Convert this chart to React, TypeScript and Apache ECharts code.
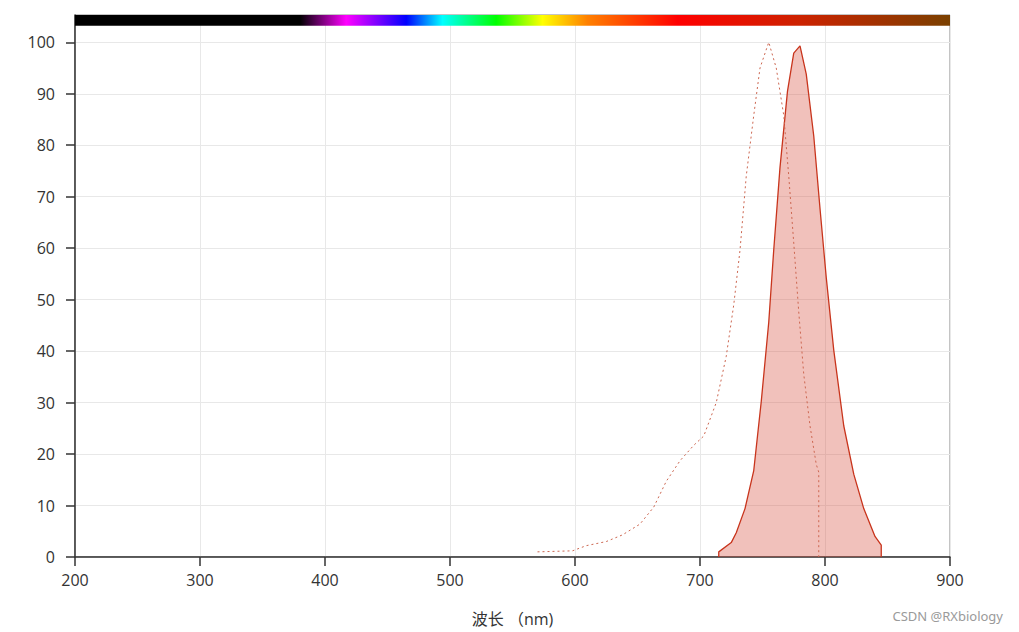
import React, { useEffect, useRef } from "react";
import * as echarts from "echarts";

// Excitation (dotted) spectrum
const exWavelength = [570, 598, 609, 625, 638, 652, 663, 673, 684, 695, 703, 713, 721, 727, 732, 737, 743, 748, 755, 761, 767, 771, 775, 779, 783, 788, 793, 795, 795];
const exValue = [1.0, 1.2, 2.2, 3.0, 4.3, 6.4, 9.7, 14.7, 18.7, 21.7, 23.5, 30, 39, 49, 59.6, 74, 85.8, 95, 100, 95, 85.8, 74, 61, 47.6, 35.5, 25.5, 18, 16.5, 0];

// Emission (filled) spectrum
const emWavelength = [715, 715, 725, 729, 736, 743, 749, 755, 759, 764, 770, 775, 780, 785, 791, 796, 801, 807, 815, 823, 831, 840, 845, 845];
const emValue = [0, 1.0, 2.8, 4.7, 9.4, 16.8, 30.2, 45.6, 59.7, 75.7, 90.5, 97.9, 99.3, 93.8, 81.8, 67.7, 54.3, 40.2, 25.5, 16.1, 9.4, 4.0, 2.3, 0];

const yTicks = [0, 10, 20, 30, 40, 50, 60, 70, 80, 90, 100];
const xMin = 200;
const xMax = 900;
const yMax = 105.3;
const bandBottom = 103.2;

// Visible spectrum colour band: wavelength -> colour
const bandWavelength = [200, 380, 417, 465, 494, 537, 574, 610, 682, 780, 900];
const bandColor = ["#000000", "#000000", "#ff00ff", "#0000ff", "#00ffff", "#00ff00", "#ffff00", "#ff8000", "#ff0000", "#cc2200", "#7a4000"];

const FONT = "'Open Sans', 'Noto Sans', 'Noto Sans CJK SC', sans-serif";

export default function App() {
  const ref = useRef<HTMLDivElement>(null);
  useEffect(() => {
    document.body.style.margin = "0";
    const chart = echarts.init(ref.current!, null, { renderer: "svg" });
    const stops = bandWavelength.map((w, i) => ({ offset: (w - xMin) / (xMax - xMin), color: bandColor[i] }));
    chart.setOption({
      animation: false,
      textStyle: { fontFamily: FONT },
      grid: { left: 75, right: 69, top: 15, bottom: 70, show: true, borderColor: "#888", borderWidth: 1, backgroundColor: "transparent" },
      xAxis: {
        type: "value",
        min: xMin,
        max: xMax,
        interval: 100,
        name: "波长 （nm)",
        nameLocation: "middle",
        nameGap: 54,
        nameTextStyle: { fontSize: 16, color: "#333", fontFamily: FONT },
        axisLine: { lineStyle: { color: "#333", width: 1.5 } },
        axisTick: { show: true, length: 9, lineStyle: { color: "#333", width: 1.5 } },
        axisLabel: { fontSize: 16, color: "#333", margin: 15, fontFamily: FONT },
        splitLine: { show: true, lineStyle: { color: "#e8e8e8" } },
      },
      yAxis: {
        type: "value",
        min: 0,
        max: yMax,
        interval: 10,
        axisLine: { show: true, lineStyle: { color: "#333", width: 1.5 } },
        axisTick: { show: true, length: 9, customValues: yTicks, lineStyle: { color: "#333", width: 1.5 } },
        axisLabel: { fontSize: 16, color: "#333", margin: 20, customValues: yTicks, fontFamily: FONT },
        splitLine: { show: true, lineStyle: { color: "#e8e8e8" } },
      },
      series: [
        {
          type: "line",
          data: emWavelength.map((w, i) => [w, emValue[i]]),
          symbol: "none",
          lineStyle: { color: "#c8341c", width: 1.3 },
          areaStyle: { color: "rgba(214,72,56,0.34)", opacity: 1 },
          markArea: {
            silent: true,
            itemStyle: { color: new echarts.graphic.LinearGradient(0, 0, 1, 0, stops) },
            data: [[{ xAxis: xMin, yAxis: bandBottom }, { xAxis: xMax, yAxis: yMax }]],
          },
          z: 2,
        },
        {
          type: "line",
          data: exWavelength.map((w, i) => [w, exValue[i]]),
          symbol: "none",
          lineStyle: { color: "#cc6650", width: 1, type: [2, 3] },
          z: 3,
        },
      ],
      graphic: [
        {
          type: "text",
          right: 16,
          bottom: 10,
          style: { text: "CSDN @RXbiology", fill: "#9a9a9a", fontSize: 13, fontFamily: "'Noto Sans', sans-serif" },
        },
      ],
    });
    return () => chart.dispose();
  }, []);
  return <div ref={ref} style={{ width: 1019, height: 632 }} />;
}
